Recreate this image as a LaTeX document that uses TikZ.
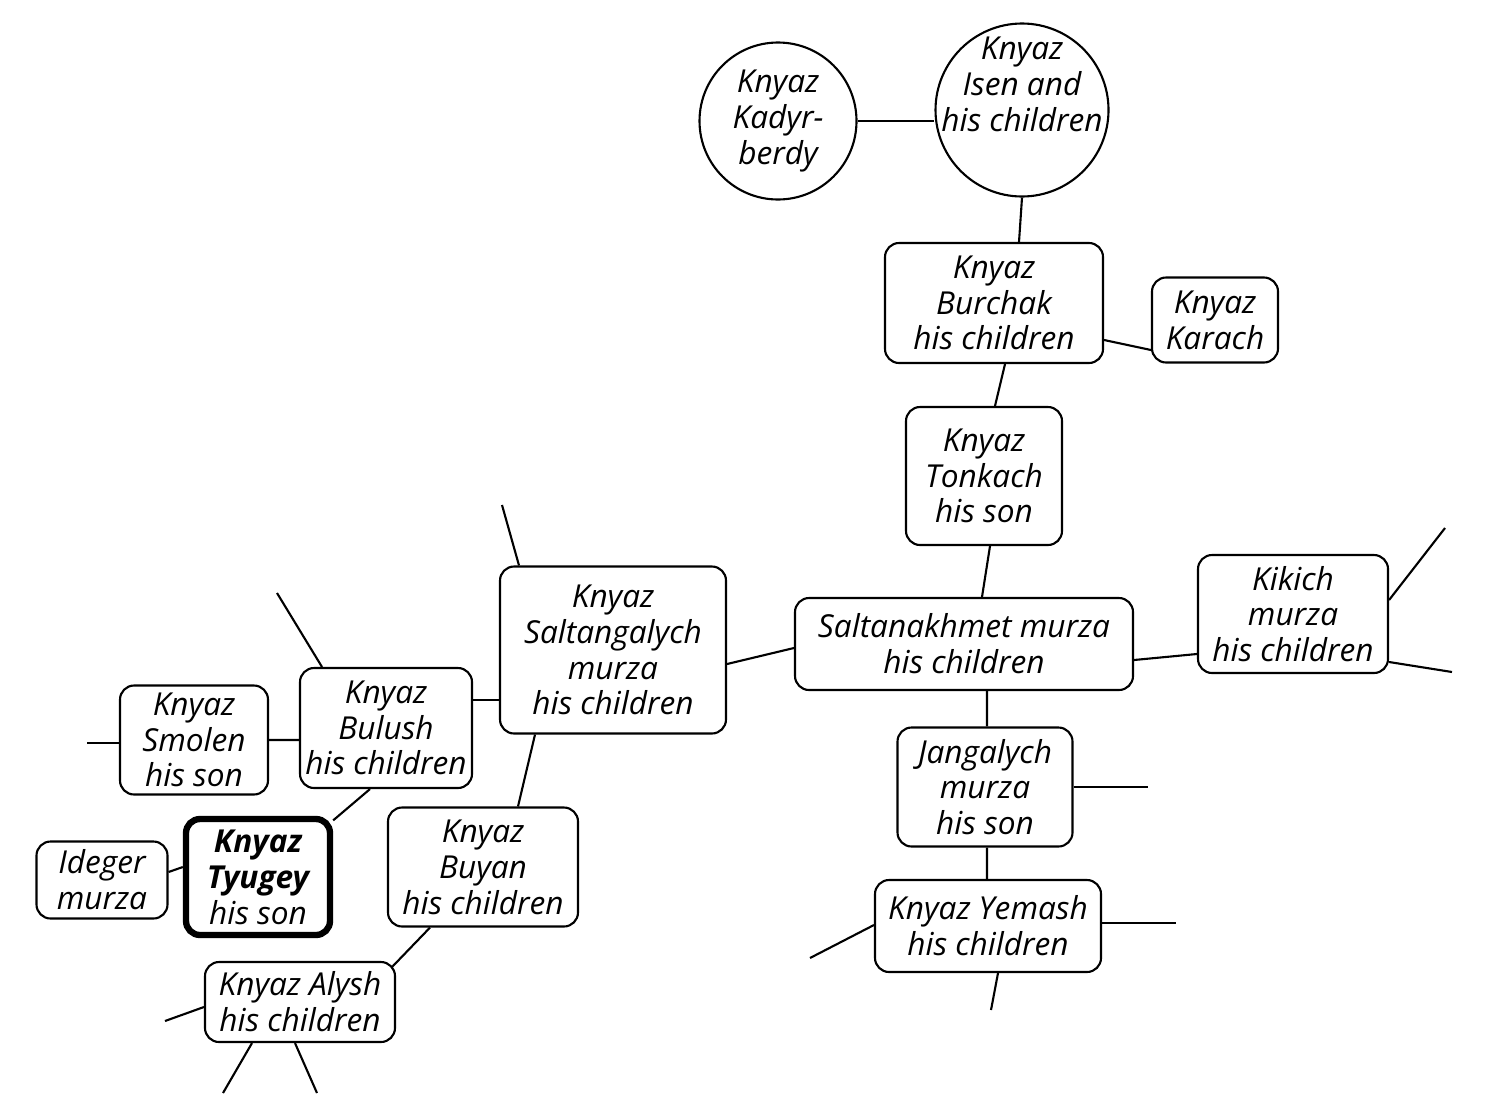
\documentclass[tikz,border=0pt]{standalone}
\usepackage{fontspec}
\setmainfont{Open Sans}
\usepackage{tikz}
\usetikzlibrary{positioning}

\begin{document}
\begin{tikzpicture}[
      line width=0.6pt,
      kin/.style={draw, fill=white, rounded corners=4pt, align=center, inner sep=1pt,
        font=\fontsize{9}{10.2}\selectfont\itshape},
      ring/.style={draw, circle, inner sep=0pt, align=center,
        font=\fontsize{9}{10.2}\selectfont\itshape}]
    \useasboundingbox (0,0) rectangle (14.96,-11.17);
    % the two circles on top
    \node[ring, minimum size=1.57cm] (kadyr) at (7.78,-1.21) {Knyaz\\Kadyr-\\berdy};
    \node[ring, minimum size=1.73cm] (isen) at (10.22,-1.10) {};
    \node[font=\fontsize{9}{10.2}\selectfont\itshape, align=center, inner sep=0pt] (isentext) at (10.22,-0.845) {Knyaz\\Isen and\\his children};
    % rounded boxes
    \foreach \n/\x/\y/\w/\h/\t in {
        burchak/9.94/-3.03/2.18/1.20/{Knyaz\\Burchak\\his children},
        karach/12.15/-3.20/1.26/0.85/{Knyaz\\Karach},
        tonkach/9.84/-4.76/1.56/1.38/{Knyaz\\Tonkach\\his son},
        salt/9.64/-6.44/3.38/0.92/{Saltanakhmet murza\\his children},
        kikich/12.93/-6.14/1.90/1.18/{Kikich\\murza\\his children},
        saltg/6.13/-6.50/2.26/1.67/{Knyaz\\Saltangalych\\murza\\his children},
        jang/9.85/-7.87/1.75/1.19/{Jangalych\\murza\\his son},
        yemash/9.88/-9.26/2.26/0.92/{Knyaz Yemash\\his children},
        bulush/3.86/-7.28/1.72/1.20/{Knyaz\\Bulush\\his children},
        smolen/1.94/-7.40/1.48/1.09/{Knyaz\\Smolen\\his son},
        ideger/1.02/-8.80/1.31/0.77/{Ideger\\murza},
        buyan/4.83/-8.67/1.90/1.19/{Knyaz\\Buyan\\his children},
        alysh/3.00/-10.02/1.90/0.80/{Knyaz Alysh\\his children}} {
      \node[kin, minimum width=\w cm, minimum height=\h cm] (\n) at (\x,\y) {\t};
    }
    \node[kin, line width=1.8pt, minimum width=1.44cm, minimum height=1.16cm] (tyugey) at (2.58,-8.77) {\textbf{Knyaz}\\\textbf{Tyugey}\\his son};
    % links between the boxes
    \draw (kadyr.east) -- (kadyr.east -| isen.west);
    \draw (isen.south) -- ([xshift=0.25cm]burchak.north);
    \draw ([yshift=-0.37cm]burchak.east) -- ([yshift=-0.30cm]karach.west);
    \draw ([xshift=0.11cm]burchak.south) -- ([xshift=0.11cm]tonkach.north);
    \draw ([xshift=0.06cm]tonkach.south) -- ([xshift=0.18cm]salt.north);
    \draw ([yshift=-0.16cm]salt.east) -- ([yshift=-0.40cm]kikich.west);
    \draw ([yshift=-0.04cm]salt.west) -- ([yshift=-0.14cm]saltg.east);
    \draw ([xshift=0.23cm]salt.south) -- ([xshift=0.02cm]jang.north);
    \draw ([xshift=0.02cm]jang.south) -- ([xshift=-0.01cm]yemash.north);
    \draw ([yshift=0.28cm]bulush.east) -- ([yshift=-0.50cm]saltg.west);
    \draw (smolen.east) -- ([yshift=-0.12cm]bulush.west);
    \draw ([xshift=-0.16cm]bulush.south) -- (tyugey.37);
    \draw ([yshift=0.08cm]ideger.east) -- ([yshift=0.10cm]tyugey.west);
    \draw ([xshift=-0.78cm]saltg.south) -- ([xshift=0.35cm]buyan.north);
    \draw ([xshift=-0.53cm]buyan.south) -- ([xshift=-0.04cm, yshift=-0.06cm]alysh.north east);
    % loose ends
    \coordinate (saltgup) at (5.02,-5.05);
    \coordinate (bulushup) at (2.77,-5.93);
    \coordinate (smolenleft) at (0.87,-7.43);
    \coordinate (kikichup) at (14.45,-5.28);
    \coordinate (kikichdown) at (14.52,-6.72);
    \coordinate (jangright) at (11.48,-7.87);
    \coordinate (yemashleft) at (8.10,-9.58);
    \coordinate (yemashright) at (11.76,-9.23);
    \coordinate (yemashdown) at (9.91,-10.10);
    \coordinate (alyshleft) at (1.65,-10.21);
    \coordinate (alyshdowna) at (2.23,-10.93);
    \coordinate (alyshdownb) at (3.17,-10.93);
    \draw ([xshift=-0.94cm]saltg.north) -- (saltgup);
    \draw ([xshift=-0.64cm]bulush.north) -- (bulushup);
    \draw ([yshift=-0.03cm]smolen.west) -- (smolenleft);
    \draw ([yshift=0.14cm]kikich.east) -- (kikichup);
    \draw ([yshift=-0.48cm]kikich.east) -- (kikichdown);
    \draw (jang.east) -- (jangright);
    \draw ([yshift=0.01cm]yemash.west) -- (yemashleft);
    \draw ([yshift=0.03cm]yemash.east) -- (yemashright);
    \draw ([xshift=0.10cm]yemash.south) -- (yemashdown);
    \draw ([yshift=-0.05cm]alysh.west) -- (alyshleft);
    \draw ([xshift=-0.48cm]alysh.south) -- (alyshdowna);
    \draw ([xshift=-0.05cm]alysh.south) -- (alyshdownb);
  \end{tikzpicture}
\end{document}
